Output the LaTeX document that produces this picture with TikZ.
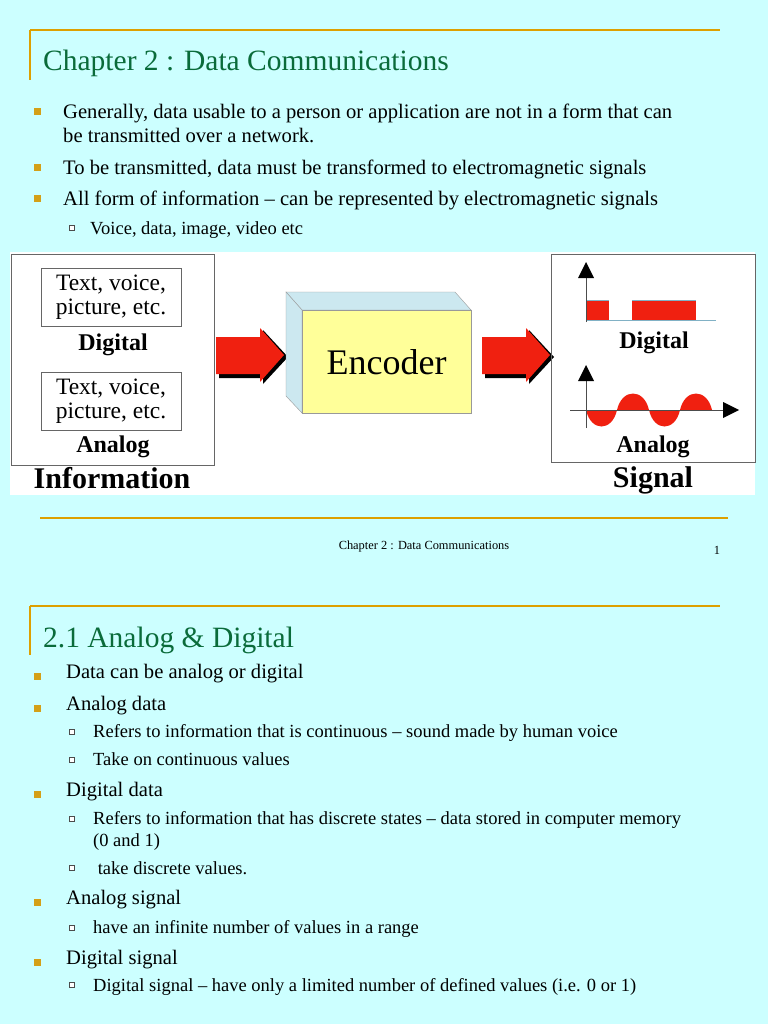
\documentclass[tikz,border=0pt]{standalone}
\usepackage{fontspec}
\setmainfont{Liberation Serif}
\definecolor{bg}{HTML}{CCFFFF}
\definecolor{ttl}{HTML}{0A6B3A}
\definecolor{org}{HTML}{DDA000}
\definecolor{bul}{HTML}{D4A017}
\definecolor{enc}{HTML}{FFFF99}
\definecolor{encs}{HTML}{CCE8F0}
\definecolor{ared}{HTML}{F02010}
\begin{document}
\begin{tikzpicture}[x=1pt,y=-1pt,
  title/.style={anchor=base west,text=ttl,font=\fontsize{29.5}{32}\selectfont,inner sep=0},
  btxt/.style={anchor=base west,font=\fontsize{20.6}{24}\selectfont,inner sep=0,align=left},
  stxt/.style={anchor=base west,font=\fontsize{18.5}{22}\selectfont,inner sep=0,align=left},
  bsq/.style={fill=bul,minimum size=7pt,inner sep=0},
  ssq/.style={draw=black!70,line width=0.7pt,fill=white,minimum size=5pt,inner sep=0},
  lab/.style={font=\bfseries\fontsize{24}{26}\selectfont,inner sep=0,anchor=base},
  big/.style={font=\bfseries\fontsize{30}{32}\selectfont,inner sep=0,anchor=base},
  ibox/.style={draw=black!60,fill=white,align=center,font=\fontsize{23.5}{24}\selectfont,minimum width=140pt,minimum height=58pt,inner sep=0},
  orl/.style={org,line width=1.6pt}]
\fill[bg] (0,0) rectangle (768,1024);
\useasboundingbox (0,0) rectangle (768,1024);
% slide 1
\draw[orl] (30,30) -- (720,30); \draw[orl] (30,30) -- (30,80);
\node[title] (t1) at (43,71) {Chapter 2 : Data Communications};
\node[bsq] (b1) at (37,112) {}; \node[btxt] (l1) at (63,143) {Generally, data usable to a person or application are not in a form that can\\be transmitted over a network.};
\node[bsq] (b2) at (37,168) {}; \node[btxt] (l2) at (63,175) {To be transmitted, data must be transformed to electromagnetic signals};
\node[bsq] (b3) at (37,199) {}; \node[btxt] (l3) at (63,206) {All form of information -- can be represented by electromagnetic signals};
\node[ssq] (s1) at (72,228) {}; \node[stxt] (m1) at (90,234) {Voice, data, image, video etc};
% diagram
\fill[white] (10,252) rectangle (755,495);
\draw[black!60] (11,254) rectangle (214,465);
\node[ibox] (i1) at (111,297) {Text, voice,\\picture, etc.};
\node[lab] (d1) at (113,350) {Digital};
\node[ibox] (i2) at (111,401) {Text, voice,\\picture, etc.};
\node[lab] (a1) at (113,452) {Analog};
\node[big] (inf) at (112,488) {Information};
% arrows
\foreach \x in {216,482}{
  \fill[black] (\x+3,340) -- (\x+47,340) -- (\x+47,330) -- (\x+72,357) -- (\x+47,384) -- (\x+47,378) -- (\x+3,378) -- cycle;
  \fill[ared] (\x,337) -- (\x+44,337) -- (\x+44,328) -- (\x+68,355) -- (\x+44,382) -- (\x+44,374) -- (\x,374) -- cycle;
}
% encoder
\filldraw[fill=encs,draw=black!40] (286,292) -- (455,292) -- (471,310) -- (302,310) -- cycle;
\filldraw[fill=encs,draw=black!40] (286,292) -- (302,310) -- (302,413) -- (286,396) -- cycle;
\node[draw=black!40,fill=enc,minimum width=169pt,minimum height=103pt,anchor=north west,inner sep=0] (enc) at (302,310) {};
\node[font=\fontsize{36}{38}\selectfont] (enct) at (enc.center) {Encoder};
% signal box
\draw[black!60] (551,254) rectangle (755,462);
\fill[ared] (587,300) rectangle (609,320);
\fill[ared] (632,300) rectangle (696,320);
\draw[cyan!60!black!60,line width=0.8pt] (587,300) -- (609,300) (587,320) -- (716,320) (632,300)--(696,300);
\draw[black!70] (586,322) -- (586,275);
\fill[black] (586,262) -- (578,278) -- (594,278) -- cycle;
\node[lab] (d2) at (654,348) {Digital};
\fill[ared] (586,410) .. controls (591,432) and (612,432) .. (617,410) -- cycle;
\fill[ared] (617,410) .. controls (622,388) and (644,388) .. (649,410) -- cycle;
\fill[ared] (649,410) .. controls (654,432) and (675,432) .. (680,410) -- cycle;
\fill[ared] (680,410) .. controls (685,388) and (707,388) .. (712,410) -- cycle;
\draw[black!70] (586,428) -- (586,380) (570,410) -- (726,410);
\fill[black] (586,365) -- (578,381) -- (594,381) -- cycle;
\fill[black] (739,410) -- (723,402) -- (723,418) -- cycle;
\node[lab] (a2) at (653,452) {Analog};
\node[big] (sig) at (653,487) {Signal};
% footer
\draw[orl] (40,518) -- (728,518);
\node[font=\fontsize{12.4}{14}\selectfont,inner sep=0] (ft) at (424,547) {Chapter 2 : Data Communications};
\node[font=\fontsize{12.4}{14}\selectfont,inner sep=0] (pg) at (717,550) {1};
% slide 2
\draw[orl] (30,606) -- (720,606); \draw[orl] (30,606) -- (30,655);
\node[title] (t2) at (43,647) {2.1 Analog \& Digital};
\node[bsq] (c1) at (37,676) {}; \node[btxt] (n1) at (66,678) {Data can be analog or digital};
\node[bsq] (c2) at (37,708) {}; \node[btxt] (n2) at (66,710) {Analog data};
\node[ssq] (e1) at (72,732) {}; \node[stxt] (o1) at (93,737) {Refers to information that is continuous -- sound made by human voice};
\node[ssq] (e2) at (72,760) {}; \node[stxt] (o2) at (93,765) {Take on continuous values};
\node[bsq] (c3) at (37,794) {}; \node[btxt] (n3) at (66,796) {Digital data};
\node[ssq] (e3) at (72,819) {}; \node[stxt] (o3) at (93,846) {Refers to information that has discrete states -- data stored in computer memory\\(0 and 1)};
\node[ssq] (e4) at (72,868) {}; \node[stxt] (o4) at (93,874) {\ take discrete values.};
\node[bsq] (c4) at (37,902) {}; \node[btxt] (n4) at (66,904) {Analog signal};
\node[ssq] (e5) at (72,928) {}; \node[stxt] (o5) at (93,933) {have an infinite number of values in a range};
\node[bsq] (c5) at (37,962) {}; \node[btxt] (n5) at (66,964) {Digital signal};
\node[ssq] (e6) at (72,985) {}; \node[stxt] (o6) at (93,991) {Digital signal -- have only a limited number of defined values (i.e. 0 or 1)};
\end{tikzpicture}
\end{document}
